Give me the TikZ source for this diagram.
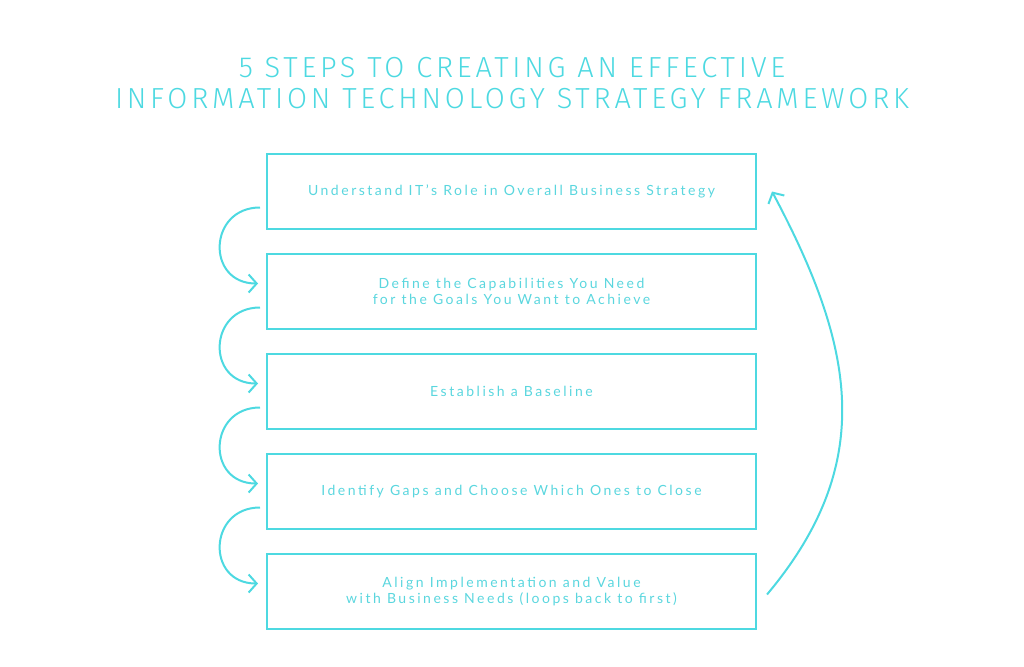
\documentclass[tikz,border=0pt]{standalone}
\usepackage{fontspec}
\setmainfont[LetterSpace=18]{Lato}
\newfontfamily\titlefont[LetterSpace=13,UprightFont=* Light]{Fira Sans}
\usetikzlibrary{positioning,arrows.meta}

\definecolor{stepcyan}{RGB}{77,217,225}
\definecolor{steptext}{RGB}{90,214,222}

\tikzset{
  stepbox/.style={draw=stepcyan, line width=1.8pt, minimum width=489pt, minimum height=75pt, outer sep=0pt,
    align=center, text=steptext, font=\fontsize{14}{15.5}\selectfont, inner sep=0pt},
  looparrow/.style={draw=stepcyan, line width=2pt, -{Straight Barb[length=8pt,width=18pt,line width=2pt]}}
}

\begin{document}
\begin{tikzpicture}[x=1pt,y=-1pt, node distance=25pt]
\useasboundingbox (0,0) rectangle (1024,666);
\node[text=stepcyan, align=center, font=\titlefont\fontsize{29}{31}\selectfont] (title) at (512,83)
  {5 STEPS TO CREATING AN EFFECTIVE\\INFORMATION TECHNOLOGY STRATEGY FRAMEWORK};
\node[stepbox] (s1) at (511.5,191.5) {Understand IT’s Role in Overall Business Strategy};
\node[stepbox, below=of s1] (s2) {Define the Capabilities You Need\\for the Goals You Want to Achieve};
\node[stepbox, below=of s2] (s3) {Establish a Baseline};
\node[stepbox, below=of s3] (s4) {Identify Gaps and Choose Which Ones to Close};
\node[stepbox, below=of s4] (s5) {Align Implementation and Value\\with Business Needs (loops back to first)};
% step to step
\foreach \a/\b in {s1/s2,s2/s3,s3/s4,s4/s5}
  \draw[looparrow] ([xshift=-7pt,yshift=-16pt]\a.west) to[out=180,in=180,looseness=1.75] ([xshift=-9pt,yshift=8pt]\b.west);
% back to the first step
\draw[looparrow] ([xshift=11pt,yshift=-3pt]s5.east) to[out=50,in=-62,looseness=1.1] ([xshift=16pt]s1.east);
\end{tikzpicture}
\end{document}
